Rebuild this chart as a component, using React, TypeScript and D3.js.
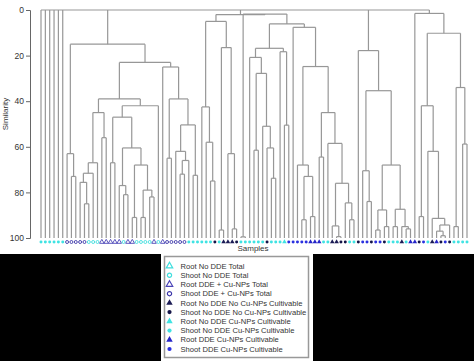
import React, { useEffect, useRef } from 'react';
import * as d3 from 'd3';

const width = 474;
const height = 361;

// legend entries (order as in the key)
const legendLabels = [
  'Root No DDE Total',
  'Shoot No DDE Total',
  'Root DDE + Cu-NPs Total',
  'Shoot DDE + Cu-NPs Total',
  'Root No DDE No Cu-NPs Cultivable',
  'Shoot No DDE No Cu-NPs Cultivable',
  'Root No DDE Cu-NPs Cultivable',
  'Shoot No DDE Cu-NPs Cultivable',
  'Root DDE Cu-NPs Cultivable',
  'Shoot DDE Cu-NPs Cultivable',
];
const legendColors = ['#3fdede', '#3fdede', '#4b45b8', '#3a34a8', '#1b1b55', '#141448', '#3fe3e3', '#3fe3e3', '#2424c8', '#2a30e0'];
const legendShapes = ['tri', 'circ', 'tri', 'circ', 'tri', 'circ', 'tri', 'circ', 'tri', 'circ'];
const legendOpen = [true, true, true, true, false, false, false, false, false, false];

// group of every sample, left to right
const leafGroup = [
  7, 7, 7, 7, 7, 7, 3, 3, 3, 3, 3, 1, 1, 1, 2, 2, 2, 2, 2, 1,
  2, 2, 1, 1, 1, 1, 2, 1, 2, 3, 3, 3, 3, 3, 7, 7, 7, 7, 7, 7,
  5, 7, 4, 4, 4, 5, 7, 7, 7, 7, 7, 7, 5, 7, 7, 7, 6, 9, 9, 9,
  9, 9, 8, 8, 8, 7, 7, 4, 4, 5, 5, 7, 7, 5, 9, 9, 5, 9, 9, 5,
  7, 7, 7, 4, 7, 8, 8, 5, 9, 7, 4, 8, 5, 9, 5, 7, 7, 7, 7,
];

const yTicks = [0, 20, 40, 60, 80, 100];

// clusters: [similarity, ...children], a number is a sample index
const clusterA = [15,
  [63, 6, [73, 7, 8]],
  [23,
    [39,
      [45,
        [67, [71.6, [75.6, 9, [85, 10, 11]], 12], 13],
        [56, 14, 15]],
      [42,
        [47,
          [67, 16, 17],
          [60.5,
            [77, 18, [81, 19, 20]],
            [68, [91, 21, 22], [79, [91, 23, 24], [82, 25, 26]]]]],
        27]],
    [25, 28, [39, [65, 29, 30], [50.4, [62, 31, [66, [72, 32, 33], 34]], [72.5, 35, 36]]]]]];

const clusterG = [6.1,
  [16.8,
    [20.8, 48, [27.8, [61.5, 49, 50], [51, 51, [60.5, 52, [73.8, 53, 54]]]]],
    [18.3, 55, [50.5, 56, 57]]],
  [7.6, 58,
    [24.8,
      [68, 59, [73, [92, 60, 61], [90.6, 62, 63]]],
      [45, [64.5, 64, 65], [58.5, 66, [76, [94.7, 67, [99.4, 68, 69]], [84.6, 70, [92, 71, 72]]]]]]]];

const clusterD = [2,
  [5, [42.5, 37, [58, 38, [75, 39, 40]]], [16.5, [96.5, 41, 42], [63, 43, [96, 44, 45]]]],
  [1.8, [99.5, 46, 47], clusterG]];

const clusterI = [17.8, 73,
  [35.4,
    [70.5, 74, [84, 75, 76]],
    [68, [87.7, [96.5, 77, 78], [95, 79, 80]], [87.4, [95, 81, 82], [95, 83, [96, 84, 85]]]]]];

const clusterH = [1.5, 86,
  [10.2,
    [42, [90.6, 87, 88], [62, 89, [91.4, 90, [94.3, [97, 91, [99, 92, 93]], 94]]]],
    [34, [95, 95, 96], [58.8, 97, 98]]]];

const tree = [0, 0, 1, 2, 3, 4, 5, clusterA, clusterD, clusterI, clusterH];

const font = '"Liberation Sans", Arial, sans-serif';

function markerPath(shape, size) {
  return d3.symbol(shape === 'tri' ? d3.symbolTriangle : d3.symbolCircle, size)();
}

export default function App() {
  const ref = useRef(null);

  useEffect(() => {
    document.body.style.margin = '0';
    const svg = d3.select(ref.current);
    svg.selectAll('*').remove();

    const x = d3.scaleLinear().domain([0, leafGroup.length - 1]).range([41, 467]);
    const y = d3.scaleLinear().domain([0, 100]).range([10, 238]);

    svg.append('rect').attr('width', width).attr('height', height).attr('fill', '#fff');
    // black bands under the plot
    svg.append('rect').attr('x', 0).attr('y', 254).attr('width', 161).attr('height', height - 254).attr('fill', '#000');
    svg.append('rect').attr('x', 313).attr('y', 254).attr('width', width - 313).attr('height', height - 254).attr('fill', '#000');

    // dendrogram segments
    const segs = [];
    const walk = (node, parentH) => {
      if (typeof node === 'number') {
        const px = x(node);
        segs.push([px, y(parentH), px, y(100)]);
        return px;
      }
      const h = node[0];
      const xs = node.slice(1).map(c => walk(c, h));
      const first = xs[0], last = xs[xs.length - 1];
      const mid = (first + last) / 2;
      segs.push([first, y(h), last, y(h)]);
      if (parentH !== null) segs.push([mid, y(parentH), mid, y(h)]);
      return mid;
    };
    walk(tree, null);

    svg.append('g')
      .attr('stroke', '#979797')
      .attr('stroke-width', 1.2)
      .selectAll('line')
      .data(segs)
      .join('line')
      .attr('x1', d => d[0]).attr('y1', d => d[1])
      .attr('x2', d => d[2]).attr('y2', d => d[3]);

    // y axis
    const yAxis = g => g
      .attr('transform', 'translate(30,0)')
      .call(d3.axisLeft(y).tickValues(yTicks).tickSize(4).tickPadding(2))
      .call(g => g.selectAll('path,line').attr('stroke', '#666'))
      .call(g => g.selectAll('text').attr('fill', '#333').attr('font-size', 8.5).attr('font-family', font));
    svg.append('g').call(yAxis);

    svg.append('text')
      .attr('transform', 'translate(8,114) rotate(-90)')
      .attr('text-anchor', 'middle')
      .attr('font-size', 8)
      .attr('font-family', font)
      .attr('fill', '#333')
      .text('Similarity');

    svg.append('text')
      .attr('x', 253).attr('y', 251)
      .attr('text-anchor', 'middle')
      .attr('font-size', 8)
      .attr('font-family', font)
      .attr('fill', '#333')
      .text('Samples');

    // sample markers
    svg.append('g')
      .selectAll('path')
      .data(leafGroup)
      .join('path')
      .attr('transform', (d, i) => `translate(${x(i)},242)`)
      .attr('d', d => markerPath(legendShapes[d], legendShapes[d] === 'tri' ? 9 : 7))
      .attr('fill', d => legendOpen[d] ? '#fff' : legendColors[d])
      .attr('stroke', d => legendOpen[d] ? legendColors[d] : 'none')
      .attr('stroke-width', 0.9);

    // legend
    const lg = svg.append('g');
    lg.append('rect')
      .attr('x', 164.5).attr('y', 256.5).attr('width', 144).attr('height', 101)
      .attr('fill', '#fff').attr('stroke', '#999').attr('stroke-width', 1.5);
    const ly = d3.scaleLinear().domain([0, legendLabels.length - 1]).range([266, 349]);
    const rows = lg.selectAll('g.row')
      .data(legendLabels)
      .join('g')
      .attr('class', 'row')
      .attr('transform', (d, i) => `translate(0,${ly(i)})`);
    rows.append('path')
      .attr('transform', 'translate(169.5,0)')
      .attr('d', (d, i) => markerPath(legendShapes[i], legendShapes[i] === 'tri' ? 18 : 14))
      .attr('fill', (d, i) => legendOpen[i] ? '#fff' : legendColors[i])
      .attr('stroke', (d, i) => legendOpen[i] ? legendColors[i] : 'none')
      .attr('stroke-width', 1.2);
    rows.append('text')
      .attr('x', 180.5).attr('y', 2.7)
      .attr('font-size', 7.6)
      .attr('font-family', font)
      .attr('fill', '#333')
      .text(d => d);
  }, []);

  return <svg ref={ref} width={width} height={height} style={{ display: 'block' }} />;
}
